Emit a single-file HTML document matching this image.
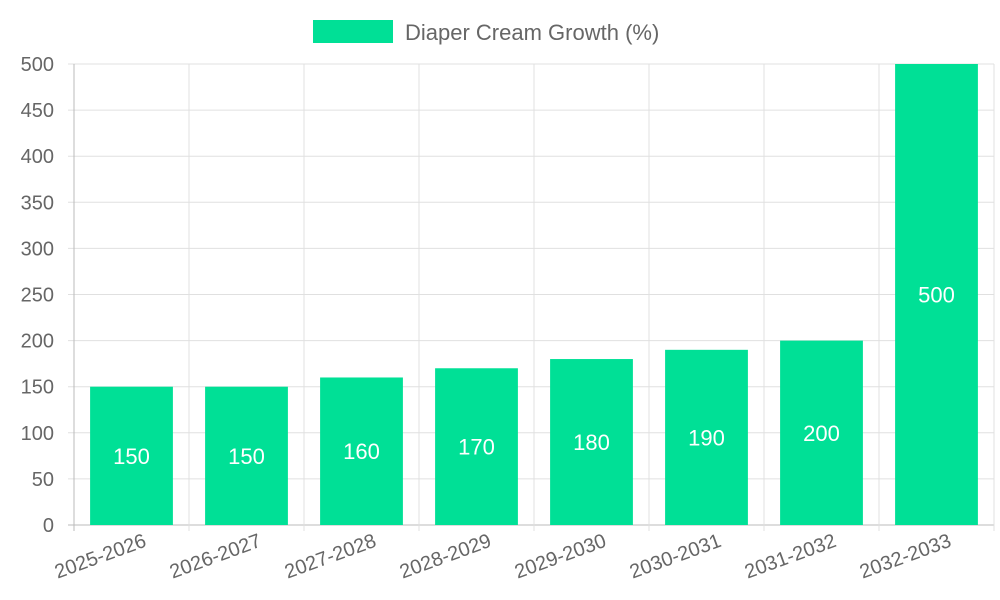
<!DOCTYPE html>
<html><head><meta charset="utf-8"><style>
body{margin:0;background:#fff;}
svg{display:block;font-family:"Liberation Sans",sans-serif;}
</style></head><body>
<svg id="c" width="1000" height="600"></svg>
<script>
const categories=["2025-2026","2026-2027","2027-2028","2028-2029","2029-2030","2030-2031","2031-2032","2032-2033"];
const values=[150,150,160,170,180,190,200,500];
const yTicks=[0,50,100,150,200,250,300,350,400,450,500];
const seriesName="Diaper Cream Growth (%)";
const NS="http://www.w3.org/2000/svg";
const svg=document.getElementById('c');
const L=74,R=994,T=64,B=525,yMax=500;
const step=(R-L)/categories.length;
const x=i=>L+i*step;
const y=v=>B-(v/yMax)*(B-T);
function mk(tag,attrs,parent){const e=document.createElementNS(NS,tag);for(const k in attrs)e.setAttribute(k,attrs[k]);(parent||svg).appendChild(e);return e;}
// legend
const lg=mk('g',{});


const lb=mk('rect',{x:313,y:20,width:80,height:23,fill:'#00e096'},lg);


const lt=mk('text',{x:405,y:40,'font-size':22,fill:'#666'},lg);


lt.textContent=seriesName;
// y grid & labels
yTicks.forEach(v=>{
  const g=mk('line',{x1:68,x2:R,y1:y(v),y2:y(v),stroke:v===0?'#bbb':'#e0e0e0','stroke-width':1});
  
  
  const t=mk('text',{x:54,y:y(v)+7,'font-size':20,fill:'#666','text-anchor':'end'});
  
  
  t.textContent=v;
});
// x grid
for(let i=0;i<=categories.length;i++){
  const g=mk('line',{x1:x(i),x2:x(i),y1:T,y2:531,stroke:i===0?'#bbb':'#e0e0e0','stroke-width':1});
  
  
}
// bars
const bw=step*0.72;
values.forEach((v,i)=>{
  const cx=x(i)+step/2;
  const r=mk('rect',{x:cx-bw/2,y:y(v),width:bw,height:B-y(v),fill:'#00e096'});
  
  
  const t=mk('text',{x:cx,y:(y(v)+B)/2+8,'font-size':22,fill:'#fff','text-anchor':'middle'});
  
  
  t.textContent=v;
  const xl=mk('text',{x:cx+16,y:546,'font-size':20,fill:'#666','text-anchor':'end',transform:`rotate(-20 ${cx+16} 546)`});
  
  
  xl.textContent=categories[i];
});
</script>
</body></html>
